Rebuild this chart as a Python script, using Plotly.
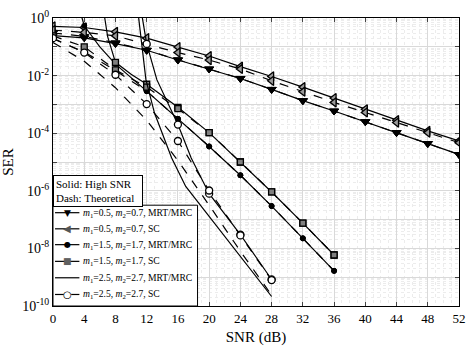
import plotly.graph_objects as go

# ---------------- data (log10 of SER) ----------------
snr_A = [0, 4, 8, 12, 16, 20, 24, 28, 32, 36, 40, 44, 48, 52]
A_solid = [-0.61, -0.69, -0.89, -1.12, -1.46, -1.77, -2.10, -2.48, -2.87, -3.23, -3.60, -3.98, -4.36, -4.74]
A_dash = [-0.52, -0.64, -0.86, -1.12, -1.45, -1.77, -2.10, -2.48, -2.87, -3.23, -3.60, -3.98, -4.36, -4.74]

snr_B = [0, 4, 8, 12, 16, 20, 24, 28, 32, 36, 40, 44, 48, 52]
B_solid = [-0.29, -0.33, -0.48, -0.70, -1.01, -1.32, -1.69, -2.03, -2.40, -2.78, -3.17, -3.55, -3.92, -4.27]
B_dash = [-0.42, -0.50, -0.62, -0.92, -1.20, -1.46, -1.77, -2.18, -2.56, -2.93, -3.28, -3.63, -3.98, -4.33]

snr_C_solid = [3.3, 4, 6, 8, 12, 16, 20, 24, 28, 32, 36]
C_solid = [0.4, -0.27, -1.0, -1.6, -2.54, -3.50, -4.46, -5.46, -6.53, -7.65, -8.78]
snr_C_dash = [0, 4, 8, 12, 16, 20, 24, 28, 32, 36]
C_dash = [-0.72, -1.18, -1.82, -2.54, -3.50, -4.46, -5.46, -6.53, -7.65, -8.78]

snr_D_solid = [6.4, 7, 8, 10, 12, 16, 20, 24, 28, 32, 36]
D_solid = [0.4, -0.65, -1.54, -1.95, -2.30, -3.10, -3.98, -5.00, -6.04, -7.12, -8.23]
snr_D_dash = [0, 4, 8, 12, 16, 20, 24, 28, 32, 36]
D_dash = [-0.62, -1.00, -1.80, -2.40, -3.15, -3.98, -5.00, -6.04, -7.12, -8.23]

snr_E_solid = [10.8, 11.4, 11.9, 13, 15.2, 17, 19, 22, 25, 28]
E_solid = [0.4, -1.1, -2.14, -3.3, -4.86, -5.85, -6.55, -7.6, -8.65, -9.67]
snr_E_dash = [0, 4, 8, 12, 16, 20, 24, 28]
E_dash = [-0.85, -1.50, -2.42, -3.55, -4.95, -6.50, -8.10, -9.62]

snr_F_solid = [11.2, 12, 13.3, 16, 17.7, 20, 24, 28]
F_solid = [0.4, -0.9, -2.14, -3.70, -4.86, -6.10, -7.52, -9.08]
snr_F_dash = [0, 4, 8, 12, 16, 20, 24, 28]
F_dash = [-0.70, -1.20, -1.97, -2.99, -4.27, -5.99, -7.55, -9.10]

labels = [
    "<i>m</i><sub>1</sub>=0.5, <i>m</i><sub>2</sub>=0.7, MRT/MRC",
    "<i>m</i><sub>1</sub>=0.5, <i>m</i><sub>2</sub>=0.7, SC",
    "<i>m</i><sub>1</sub>=1.5, <i>m</i><sub>2</sub>=1.7, MRT/MRC",
    "<i>m</i><sub>1</sub>=1.5, <i>m</i><sub>2</sub>=1.7, SC",
    "<i>m</i><sub>1</sub>=2.5, <i>m</i><sub>2</sub>=2.7, MRT/MRC",
    "<i>m</i><sub>1</sub>=2.5, <i>m</i><sub>2</sub>=2.7, SC",
]
note_text = "Solid: High SNR<br>Dash: Theoretical"
x_ticks = list(range(0, 53, 4))
y_exponents = [0, -1, -2, -3, -4, -5, -6, -7, -8, -9, -10]

# ---------------- styles ----------------
FONT = "Liberation Serif, Times New Roman, serif"
markers = [
    dict(symbol="triangle-down", size=8, color="black", line=dict(color="black", width=1)),
    dict(symbol="triangle-left", size=8, color="#9a9a9a", line=dict(color="black", width=1.3)),
    dict(symbol="circle", size=5, color="black", line=dict(color="black", width=1)),
    dict(symbol="square", size=6, color="#808080", line=dict(color="black", width=1.3)),
    None,
    dict(symbol="circle", size=7, color="white", line=dict(color="black", width=1.3)),
]
# legend key glyphs (text) : (glyph, color, size)
legend_glyphs = [
    [("\u25BC", "black", 9)],
    [("\u25C0", "#555555", 10)],
    [("\u25CF", "black", 8)],
    [("\u25A0", "#606060", 9)],
    [],
    [("\u25CF", "white", 10), ("\u25CB", "black", 10)],
]
series = [
    (snr_A, A_solid, snr_A, A_dash),
    (snr_B, B_solid, snr_B, B_dash),
    (snr_C_solid, C_solid, snr_C_dash, C_dash),
    (snr_D_solid, D_solid, snr_D_dash, D_dash),
    (snr_E_solid, E_solid, snr_E_dash, E_dash),
    (snr_F_solid, F_solid, snr_F_dash, F_dash),
]

fig = go.Figure()
for i, (xs, ys, xd, yd) in enumerate(series):
    for xx, yy, dash in ((xs, ys, "solid"), (xd, yd, "dash")):
        fig.add_trace(go.Scatter(x=xx, y=[10 ** v for v in yy], mode="lines",
                                 line=dict(color="black", width=1.2, dash=dash),
                                 showlegend=False, hoverinfo="skip", cliponaxis=True))
        if markers[i] is not None:
            mx = [a for a, b in zip(xx, yy) if a % 4 == 0 and b <= 0]
            my = [10 ** b for a, b in zip(xx, yy) if a % 4 == 0 and b <= 0]
            fig.add_trace(go.Scatter(x=mx, y=my, mode="markers", marker=markers[i],
                                     showlegend=False, hoverinfo="skip"))

# ---------------- hand-made legend (paper coordinates) ----------------
box = dict(x0=0.0, x1=0.356, y0=0.0, y1=0.350)
row_y = [0.324, 0.268, 0.213, 0.155, 0.098, 0.040]
key_x0, key_x1, key_xm, text_x = 0.005, 0.065, 0.035, 0.069

shapes = [dict(type="rect", xref="paper", yref="paper", layer="above",
               fillcolor="white", line=dict(color="black", width=1), **box)]
annotations = []
for i, yy in enumerate(row_y):
    shapes.append(dict(type="line", xref="paper", yref="paper", layer="above",
                       x0=key_x0, x1=key_x1, y0=yy, y1=yy, line=dict(color="black", width=1.2)))
    for g, c, s in legend_glyphs[i]:
        annotations.append(dict(xref="paper", yref="paper", x=key_xm, y=yy, xanchor="center",
                                yanchor="middle", text=g, showarrow=False,
                                font=dict(family="DejaVu Sans", size=s, color=c)))
    annotations.append(dict(xref="paper", yref="paper", x=text_x, y=yy, xanchor="left",
                            yanchor="middle", text=labels[i], showarrow=False,
                            font=dict(family=FONT, size=9.6, color="black")))
annotations.append(dict(xref="paper", yref="paper", x=0.0, y=0.455, xanchor="left", yanchor="top",
                        text=note_text, showarrow=False, align="left", width=84,
                        bgcolor="white", bordercolor="black", borderwidth=1, borderpad=2,
                        font=dict(family=FONT, size=11, color="black")))

fig.update_layout(
    width=474, height=350,
    margin=dict(l=48, r=8, t=12, b=44),
    paper_bgcolor="white", plot_bgcolor="white",
    font=dict(family=FONT, color="black", size=13),
    showlegend=False,
    shapes=shapes,
    annotations=annotations,
)
fig.update_xaxes(range=[0, 52], tickvals=x_ticks, ticktext=[str(v) for v in x_ticks],
                 ticks="inside", ticklen=4, showline=True, linecolor="black", linewidth=1, mirror="ticks",
                 showgrid=True, gridcolor="#d9d9d9", gridwidth=1, zeroline=False,
                 tickfont=dict(size=13),
                 minor=dict(dtick=1, showgrid=True, gridcolor="#ececec", griddash="dot"),
                 title=dict(text="SNR (dB)", font=dict(size=15), standoff=6))
fig.update_yaxes(type="log", range=[-10, 0],
                 tickvals=[10 ** e for e in y_exponents],
                 ticktext=[("10<sup>%d</sup>" % e) if e % 2 == 0 else "" for e in y_exponents],
                 ticks="inside", ticklen=4, showline=True, linecolor="black", linewidth=1, mirror="ticks",
                 showgrid=True, gridcolor="#d9d9d9", gridwidth=1, zeroline=False,
                 tickfont=dict(size=14),
                 minor=dict(dtick="D1", showgrid=True, gridcolor="#ececec", griddash="dot"),
                 title=dict(text="SER", font=dict(size=15), standoff=4))

fig.write_html("out.html")
